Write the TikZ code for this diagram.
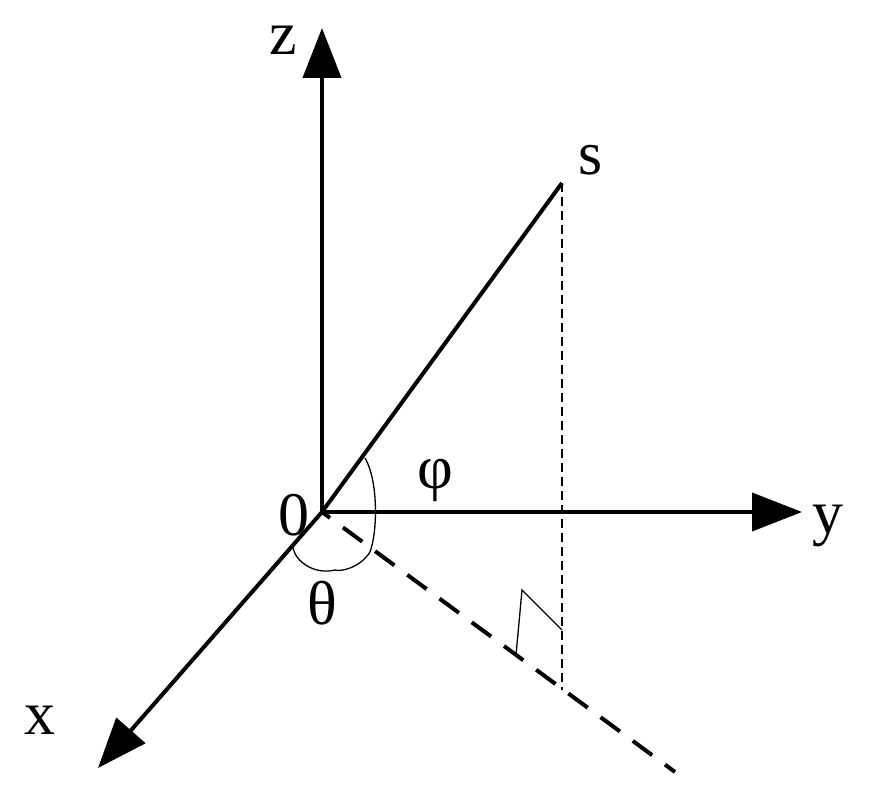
\documentclass[tikz,border=0pt]{standalone}
\usepackage{fontspec}
\setmainfont{Liberation Serif}
\usetikzlibrary{arrows.meta}
\begin{document}
\begin{tikzpicture}[x=1pt,y=-1pt,
  axis/.style={line width=4pt,-{Triangle[length=50pt,width=38pt]}},
  lbl/.style={inner sep=0pt,font=\fontsize{62}{64}\selectfont}]
\useasboundingbox (0,0) rectangle (870,799);
\coordinate (O) at (322,512);
\coordinate (Z) at (322,28);
\coordinate (Y) at (802,512);
\coordinate (X) at (98,768);
\coordinate (S) at (562,183);
\coordinate (P) at (562,690);
\coordinate (E) at (675,772);
\draw[axis] (O) -- (Z);
\draw[axis] (O) -- (Y);
\draw[axis] (O) -- (X);
\draw[line width=4pt] (O) -- (S);
\draw[line width=4pt,dash pattern=on 24pt off 16pt,dash phase=14pt] (O) -- (E);
\draw[line width=1.5pt,dash pattern=on 9pt off 5pt] (S) -- (P);
\draw[line width=1.3pt] (562,630) -- (522,590) -- (516,655);
\draw[line width=1.3pt] (365,458) .. controls (378,480) and (378,530) .. (370,552) .. controls (360,568) and (340,572) .. (335,570) .. controls (315,575) and (295,562) .. (293,547);
\node[lbl] (zl) at (283,40) {z};
\node[lbl] (sl) at (591,160) {s};
\node[lbl] (yl) at (828,526) {y};
\node[lbl] (xl) at (40,720) {x};
\node[lbl] (ol) at (294,515) {0};
\node[lbl] (pl) at (435,480) {φ};
\node[lbl] (tl) at (322,603) {θ};
\end{tikzpicture}
\end{document}
